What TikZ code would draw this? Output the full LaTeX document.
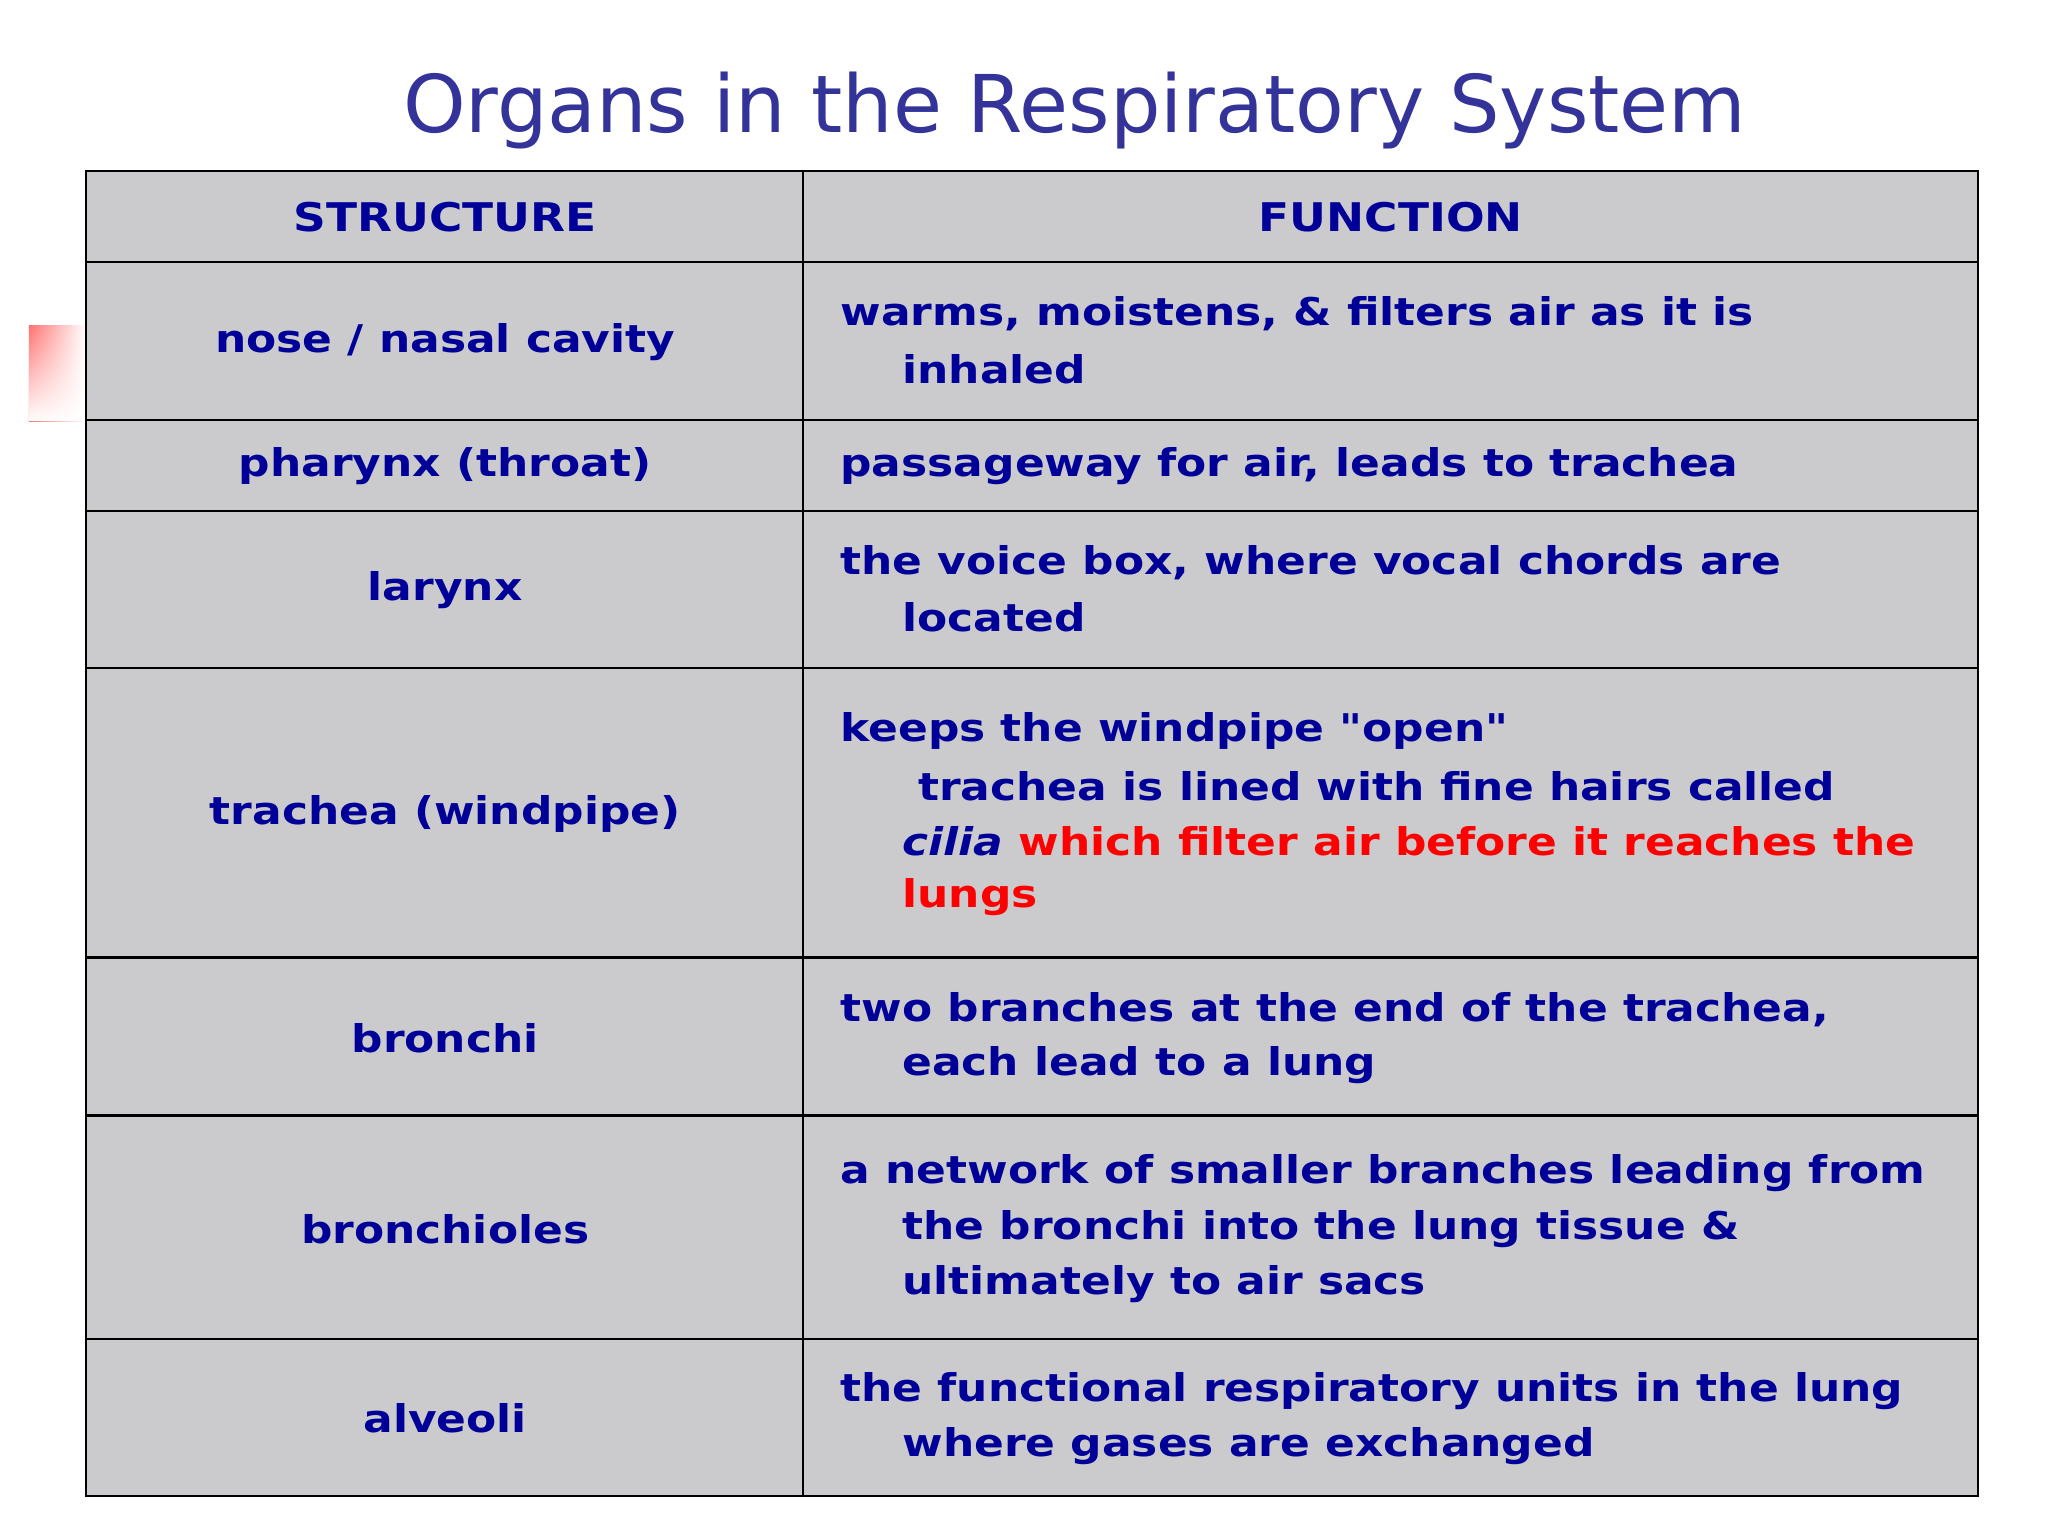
\documentclass[tikz,border=0pt]{standalone}
\usetikzlibrary{fadings}
\usepackage{fontspec}
\setmainfont{DejaVu Sans}
\newfontfamily\widefont[FakeStretch=1.15]{DejaVu Sans}
\usepackage{graphicx}
\definecolor{tblue}{HTML}{000099}
\definecolor{ttitle}{HTML}{333399}
\definecolor{tgray}{HTML}{CBCBCD}
\begin{document}
\begin{tikzpicture}[x=1pt,y=-1pt,
  cell/.style={font=\widefont\fontsize{29}{34}\bfseries\selectfont,text=tblue,inner sep=0pt},
  ln/.style={cell,anchor=west},
  hd/.style={cell,font=\widefont\fontsize{30}{34}\bfseries\selectfont}]
\useasboundingbox (0,0) rectangle (1555,1166);
\fill[white] (0,0) rectangle (1555,1166);
\shade[left color=red!55,right color=white] (22,247) rectangle (65,320);
\fill[white,path fading=north] (22,247) rectangle (65,320);
\node[text=ttitle,inner sep=0pt] (title) at (816,84) {\resizebox{1020pt}{!}{\fontsize{60}{70}\selectfont Organs in the Respiratory System}};
\fill[tgray] (65,130) rectangle (1502,1136);
\draw[line width=1.6pt] (65,130) rectangle (1502,1136);
\draw[line width=1.6pt] (610,130) -- (610,1136);
\foreach \y in {199,319,388,507,727,847,1017} \draw[line width=1.6pt] (65,\y) -- (1502,\y);
\node[hd] (h1) at (338,165) {STRUCTURE};
\node[hd] (h2) at (1056,165) {FUNCTION};
\node[cell] (s1) at (338,260) {nose / nasal cavity};
\node[cell] (s2) at (338,354) {pharynx (throat)};
\node[cell] (s3) at (338,448) {larynx};
\node[cell] (s4) at (338,618) {trachea (windpipe)};
\node[cell] (s5) at (338,788) {bronchi};
\node[cell] (s6) at (338,933) {bronchioles};
\node[cell] (s7) at (338,1077) {alveoli};
\node[ln] (f1a) at (638,238) {warms, moistens, \& filters air as it is};
\node[ln] (f1b) at (685,280) {inhaled};
\node[ln] (f2) at (638,354) {passageway for air, leads to trachea};
\node[ln] (f3a) at (638,427) {the voice box, where vocal chords are};
\node[ln] (f3b) at (685,469) {located};
\node[ln] (f4a) at (638,555) {keeps the windpipe \char34 open\char34};
\node[ln] (f4b) at (697,597) {trachea is lined with fine hairs called};
\node[ln] (f4c) at (685,639) {\textit{cilia} \textcolor{red}{which filter air before it reaches the}};
\node[ln,text=red] (f4d) at (685,681) {lungs};
\node[ln] (f5a) at (638,767) {two branches at the end of the trachea,};
\node[ln] (f5b) at (685,809) {each lead to a lung};
\node[ln] (f6a) at (638,891) {a network of smaller branches leading from};
\node[ln] (f6b) at (685,933) {the bronchi into the lung tissue \&};
\node[ln] (f6c) at (685,975) {ultimately to air sacs};
\node[ln] (f7a) at (638,1056) {the functional respiratory units in the lung};
\node[ln] (f7b) at (685,1098) {where gases are exchanged};
\end{tikzpicture}
\end{document}
